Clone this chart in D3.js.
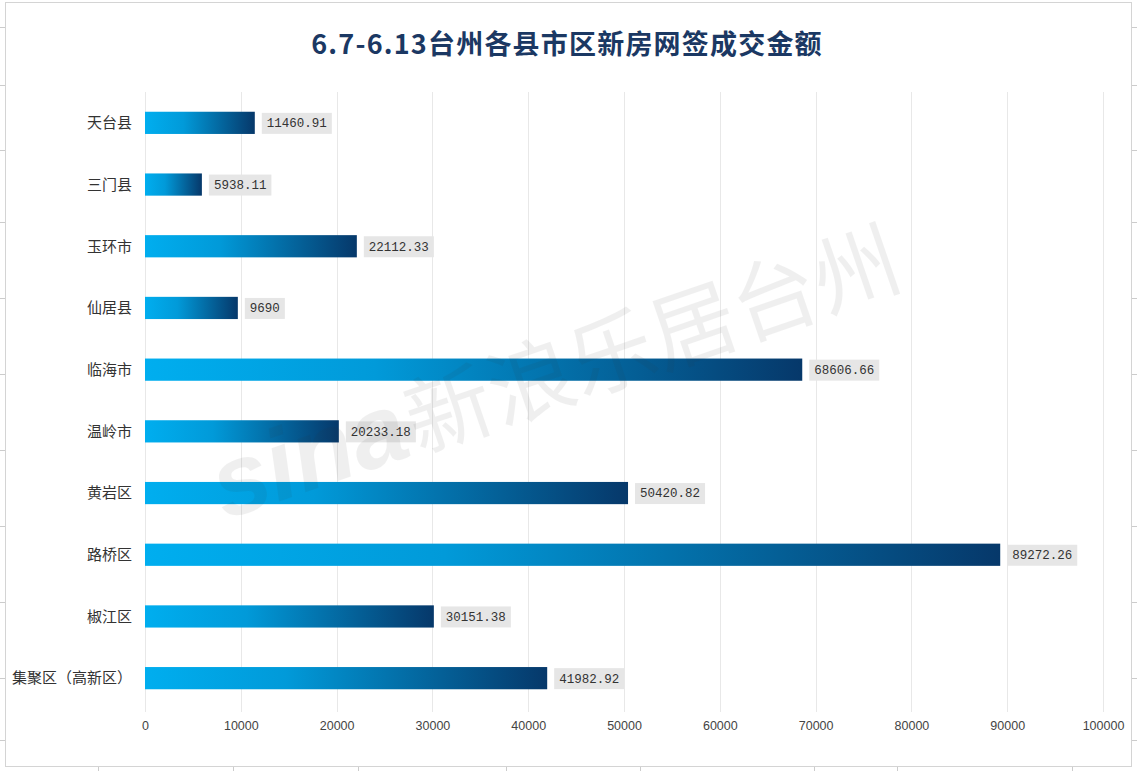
<!DOCTYPE html>
<html>
<head>
<meta charset="utf-8">
<script src="https://cdn.jsdelivr.net/npm/d3@7/dist/d3.min.js"></script>
<style>
  body { margin: 0; background: #fff; }
  svg { display: block; }
</style>
</head>
<body>
<svg width="1137" height="771"></svg>
<script>
const svg = d3.select('svg');
const svgWidth = +svg.attr('width');
const svgHeight = +svg.attr('height');

// data
const districts = ['天台县', '三门县', '玉环市', '仙居县', '临海市', '温岭市', '黄岩区', '路桥区', '椒江区', '集聚区（高新区）'];
const amounts = [11460.91, 5938.11, 22112.33, 9690, 68606.66, 20233.18, 50420.82, 89272.26, 30151.38, 41982.92];
const amountLabels = ['11460.91', '5938.11', '22112.33', '9690', '68606.66', '20233.18', '50420.82', '89272.26', '30151.38', '41982.92'];
const xTicks = [0, 10000, 20000, 30000, 40000, 50000, 60000, 70000, 80000, 90000, 100000];
const title = '6.7-6.13台州各县市区新房网签成交金额';

const rows = districts.map((d, i) => ({ name: d, value: amounts[i], label: amountLabels[i] }));

const margin = { left: 145, top: 92 };

// outer sheet frame
svg.append('rect')
  .attr('x', 5.5).attr('y', 2.5)
  .attr('width', 1126).attr('height', 764)
  .attr('fill', 'white')
  .attr('stroke', '#d4d4d4');

// spreadsheet cell tick marks outside the frame
[27, 85, 150, 222, 298, 374, 450, 526, 602, 678, 740].forEach(y => {
  svg.append('line').attr('x1', 0).attr('x2', 5).attr('y1', y + 0.5).attr('y2', y + 0.5).attr('stroke', '#ccc');
  svg.append('line').attr('x1', 1132).attr('x2', 1137).attr('y1', y + 0.5).attr('y2', y + 0.5).attr('stroke', '#ccc');
});
[98, 233, 358, 506, 640, 814, 897, 1072].forEach(x => {
  svg.append('line').attr('x1', x + 0.5).attr('x2', x + 0.5).attr('y1', 767).attr('y2', 771).attr('stroke', '#ccc');
});

const x = d3.scaleLinear()
  .domain([0, 100000])
  .range([0, 958]);

const y = d3.scaleBand()
  .domain(districts)
  .range([0, 617])
  .paddingInner(0.64)
  .paddingOuter(0.32);

const g = svg.append('g')
  .attr('transform', `translate(${margin.left}, ${margin.top})`);

// gradient for bars
const defs = svg.append('defs');
const grad = defs.append('linearGradient')
  .attr('id', 'barGrad')
  .attr('x1', '0%').attr('x2', '100%')
  .attr('y1', '0%').attr('y2', '0%');
grad.append('stop').attr('offset', '0%').attr('stop-color', '#00aeef');
grad.append('stop').attr('offset', '35%').attr('stop-color', '#019ad9');
grad.append('stop').attr('offset', '100%').attr('stop-color', '#06386a');

// vertical gridlines
g.append('g')
  .attr('class', 'grid')
  .selectAll('line')
  .data(xTicks)
  .enter()
  .append('line')
    .attr('x1', d => Math.round(x(d)) + 0.5)
    .attr('x2', d => Math.round(x(d)) + 0.5)
    .attr('y1', 0)
    .attr('y2', 620)
    .attr('stroke', '#e8e8e8');

// watermark
const wm = svg.append('g')
  .attr('transform', 'translate(225, 520) rotate(-19)')
  .attr('opacity', 0.07);
wm.append('text')
  .attr('x', 0).attr('y', 0)
  .attr('font-family', 'Liberation Sans, Arial, sans-serif')
  .attr('font-size', 100)
  .attr('font-weight', 'bold')
  .attr('font-style', 'italic')
  .attr('fill', '#333')
  .text('sina');
wm.append('text')
  .attr('x', 205).attr('y', 0)
  .attr('font-family', 'Noto Sans CJK SC')
  .attr('font-size', 86)
  .attr('fill', '#333')
  .text('新浪乐居台州');

// bars
const barG = g.selectAll('g.bar')
  .data(rows)
  .enter()
  .append('g')
    .attr('class', 'bar');

barG.append('rect')
  .attr('x', 0)
  .attr('y', d => y(d.name))
  .attr('width', d => x(d.value))
  .attr('height', y.bandwidth())
  .attr('fill', 'url(#barGrad)');

// value labels with grey box
barG.each(function (d) {
  const sel = d3.select(this);
  const tx = x(d.value) + 12;
  const cy = y(d.name) + y.bandwidth() / 2;
  const t = sel.append('text')
    .attr('x', tx)
    .attr('y', cy)
    .attr('dy', '0.35em')
    .attr('font-family', 'Liberation Mono, DejaVu Sans Mono, monospace')
    .attr('font-size', 12.5)
    .attr('fill', '#333')
    .text(d.label);
  const w = t.node().getComputedTextLength();
  sel.insert('rect', 'text')
    .attr('x', tx - 5)
    .attr('y', cy - 10)
    .attr('width', w + 10)
    .attr('height', 21)
    .attr('fill', '#e6e6e6');
});

// category labels
g.append('g')
  .selectAll('text')
  .data(districts)
  .enter()
  .append('text')
    .attr('x', -13)
    .attr('y', d => y(d) + y.bandwidth() / 2)
    .attr('dy', '0.35em')
    .attr('text-anchor', 'end')
    .attr('font-family', 'Noto Sans CJK SC, sans-serif')
    .attr('font-size', 15)
    .attr('fill', '#333')
    .text(d => d);

// x axis labels
const xAxis = d3.axisBottom(x)
  .tickValues(xTicks)
  .tickSize(0)
  .tickPadding(0)
  .tickFormat(d3.format('d'));

const axisG = g.append('g')
  .attr('transform', 'translate(0, 629)')
  .call(xAxis);
axisG.select('.domain').remove();
axisG.selectAll('text')
  .attr('font-family', 'Liberation Sans, Arial, sans-serif')
  .attr('font-size', 12.5)
  .attr('fill', '#444');

// title
svg.append('text')
  .attr('x', 567)
  .attr('y', 45)
  .attr('dy', '0.35em')
  .attr('text-anchor', 'middle')
  .attr('font-family', 'Noto Sans CJK SC, sans-serif')
  .attr('font-weight', 'bold')
  .attr('font-size', 27)
  .attr('letter-spacing', 1.2)
  .attr('fill', '#1b3863')
  .text(title);
</script>
</body>
</html>
